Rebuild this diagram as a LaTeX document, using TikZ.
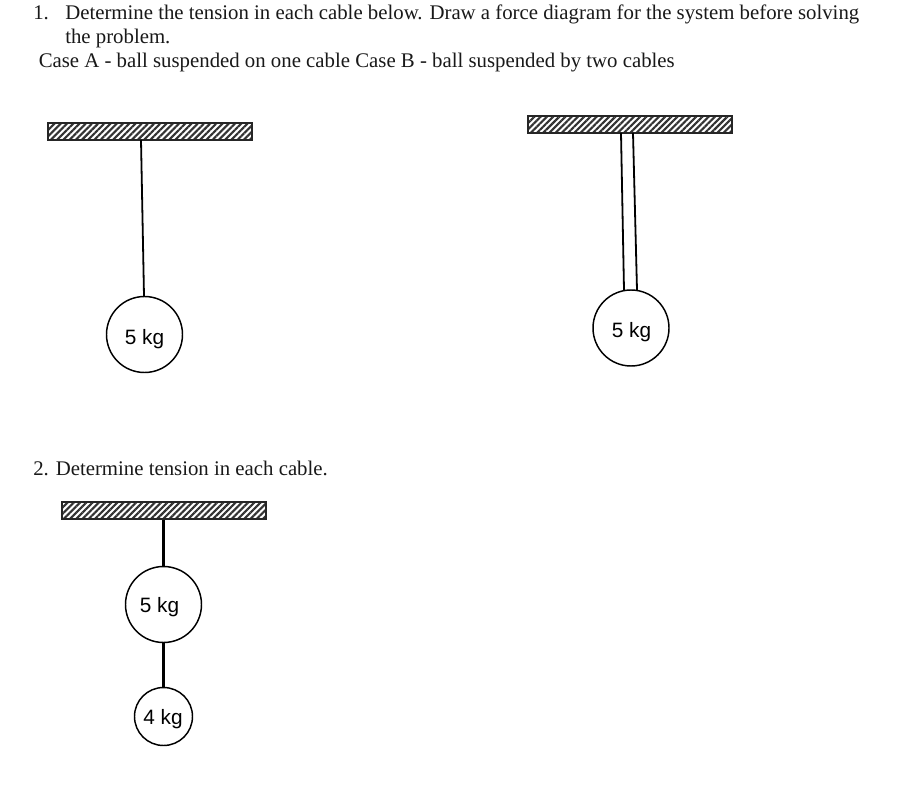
\documentclass[tikz,border=0pt]{standalone}
\usepackage{fontspec}
\setmainfont{Liberation Serif}
\newfontfamily\labelfont{Liberation Sans}
\usetikzlibrary{patterns.meta}
\tikzset{
  x=0.75pt,y=-0.75pt,
  wallbox/.style={draw=black!85,line width=1.5pt,minimum width=153pt,minimum height=12.2pt,inner sep=0pt,
    pattern={Lines[angle=45,distance=3.3pt,line width=1.6pt]},pattern color=black!80},
  bigball/.style={circle,draw=black,line width=1.1pt,minimum size=57pt,inner sep=0pt},
  smallball/.style={circle,draw=black,line width=1.1pt,minimum size=43.5pt,inner sep=0pt},
  cable/.style={draw=black,line width=1.35pt},
  thickcable/.style={draw=black,line width=1.9pt},
  doctext/.style={anchor=base west,inner sep=0pt,font=\fontsize{15.6pt}{18pt}\selectfont,text=black!90},
  masslabel/.style={inner sep=0pt,font=\labelfont\fontsize{15.6pt}{18pt}\selectfont}
}
\begin{document}
\begin{tikzpicture}
\useasboundingbox (0,0) rectangle (906,788);
\fill[white] (0,0) rectangle (906,788);
\node[doctext] (t1) at (33,20) {1.};
\node[doctext] (t1b) at (65,20) {Determine the tension in each cable below. Draw a force diagram for the system before solving};
\node[doctext] (t2) at (65,44) {the problem.};
\node[doctext] (t3) at (38.5,68) {Case A - ball suspended on one cable Case B - ball suspended by two cables};
\node[doctext] (t4) at (33,475) {2. Determine tension in each cable.};

\node[wallbox] (wallA) at (149.5,131.5) {};
\node[wallbox] (wallB) at (629.5,124.5) {};
\node[wallbox] (wallC) at (163.5,510.5) {};

\node[bigball] (ballA) at (144.5,334.5) {};
\node[bigball] (ballB) at (631,328) {};
\node[bigball] (ballC) at (163.5,604.5) {};
\node[smallball] (ballD) at (163.5,716.5) {};

\node[masslabel] (lA) at (144.5,339) {5 kg};
\node[masslabel] (lB) at (631.5,332) {5 kg};
\node[masslabel] (lC) at (159.5,607) {5 kg};
\node[masslabel] (lD) at (163,719) {4 kg};

\coordinate (a1) at (141,140);
\coordinate (a2) at (144,296);
\coordinate (b1) at (621,133);
\coordinate (b2) at (624,290);
\coordinate (b3) at (633,133);
\coordinate (b4) at (637,290);
\path[cable] (a1) -- (a2);
\path[cable] (b1) -- (b2);
\path[cable] (b3) -- (b4);
\path[thickcable] (ballC.north |- wallC.south) -- (ballC.north);
\path[thickcable] (ballC.south) -- (ballD.north);
\end{tikzpicture}
\end{document}
